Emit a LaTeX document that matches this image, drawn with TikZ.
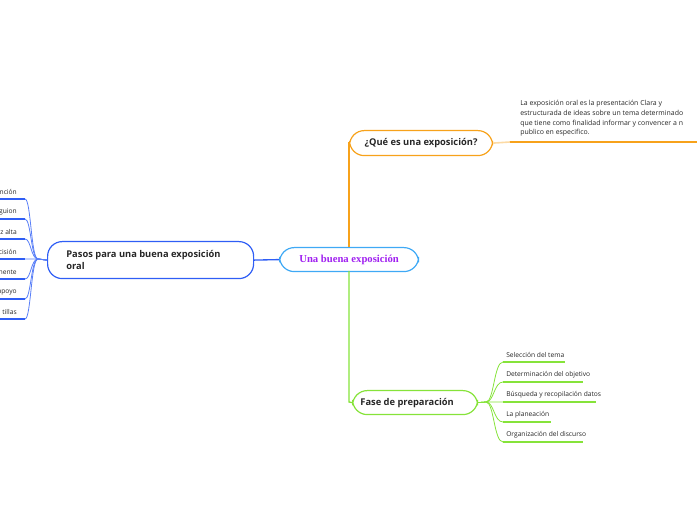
\documentclass[tikz,border=0pt]{standalone}
\usepackage{fontspec}
\setmainfont{Open Sans}
\newfontfamily\serifb{Liberation Serif}
\begin{document}
\begin{tikzpicture}[x=0.75pt,y=-0.75pt,
 box/.style={draw,rounded corners=11pt,line width=0.9pt,inner sep=0pt,anchor=north west},
 small/.style={font=\fontsize{5}{6}\selectfont,text=black!85,inner sep=0pt},
 ]
\useasboundingbox (0,0) rectangle (697,520);
\definecolor{cblue}{HTML}{2F5EF5}
\definecolor{corange}{HTML}{F7A21B}
\definecolor{cgreen}{HTML}{86E33A}
\definecolor{ccen}{HTML}{3FA9F5}
\definecolor{cpurp}{HTML}{A020F0}
\node[box,draw=ccen,minimum width=139pt*0.75,minimum height=24*0.75pt] (c) at (279,247) {};
\node[text=cpurp,font=\serifb\bfseries\fontsize{8}{9}\selectfont] at (c.center) {Una buena exposición};
\node[box,draw=corange,minimum width=143*0.75pt,minimum height=25*0.75pt] (q) at (349,130) {};
\node[font=\bfseries\fontsize{7}{8}\selectfont,text=black!85] at (q.center) {¿Qué es una exposición?};
\node[box,draw=cblue,minimum width=206*0.75pt,minimum height=37*0.75pt] (p) at (47,241) {};
\node[font=\bfseries\fontsize{7}{9}\selectfont,text=black!85,align=left,anchor=west] at ([xshift=11pt]p.west) {Pasos para una buena exposición\\oral};
\node[box,draw=cgreen,minimum width=125*0.75pt,minimum height=24*0.75pt] (f) at (352,390) {};
\node[font=\bfseries\fontsize{7}{8}\selectfont,text=black!85] at ([xshift=-6pt]f.center) {Fase de preparación};
% connectors
\draw[cblue,line width=1pt] (c.west) -- (p.east);
\coordinate (qa) at (349,142);
\draw[corange,line width=1pt] (349,247) -- (qa);
\draw[cgreen,line width=1pt] (349,271) -- (349,402) -- (f.west);
% orange description
\coordinate (oend) at (697,142);
\draw[corange!40,line width=1.2pt] (q.east) -- (510,142);
\draw[corange,line width=1.2pt] (510,142) -- (oend);
\node[small,anchor=north west,align=left,font=\fontsize{5.2}{7.3}\selectfont] (qt) at (520,100) {La exposición oral es la presentación Clara y\\estructurada de ideas sobre un tema determinado\\que tiene como finalidad informar y convencer a n\\publico en especifico.};
% green children
\foreach \t/\y/\w in {Selección del tema/362/565,Determinación del objetivo/382/583,Búsqueda y recopilación datos/402/596,La planeación/422/551,Organización del discurso/442/583}{
 \draw[cgreen,line width=0.6pt] (f.east) -- (486,402) .. controls (494,402) and (494,\y) .. (503,\y);
 \draw[cgreen,line width=1.1pt] (503,\y) -- (\w,\y);
 \node[small,anchor=south west] at (506,\y-4) {\t};
}
% blue children
\foreach \t/\y in {nción/199,guion/219,z alta/239,cisión/259,mente/279,apoyo/299,tillas/319}{
 \draw[cblue!80!white,line width=0.6pt] (p.west) -- (38,259) .. controls (31,259) and (31,\y) .. (25,\y);
 \draw[cblue,line width=1.1pt] (25,\y) -- (0,\y);
 \node[small,anchor=south east] at (17,\y-4) {\t};
}
\end{tikzpicture}
\end{document}
